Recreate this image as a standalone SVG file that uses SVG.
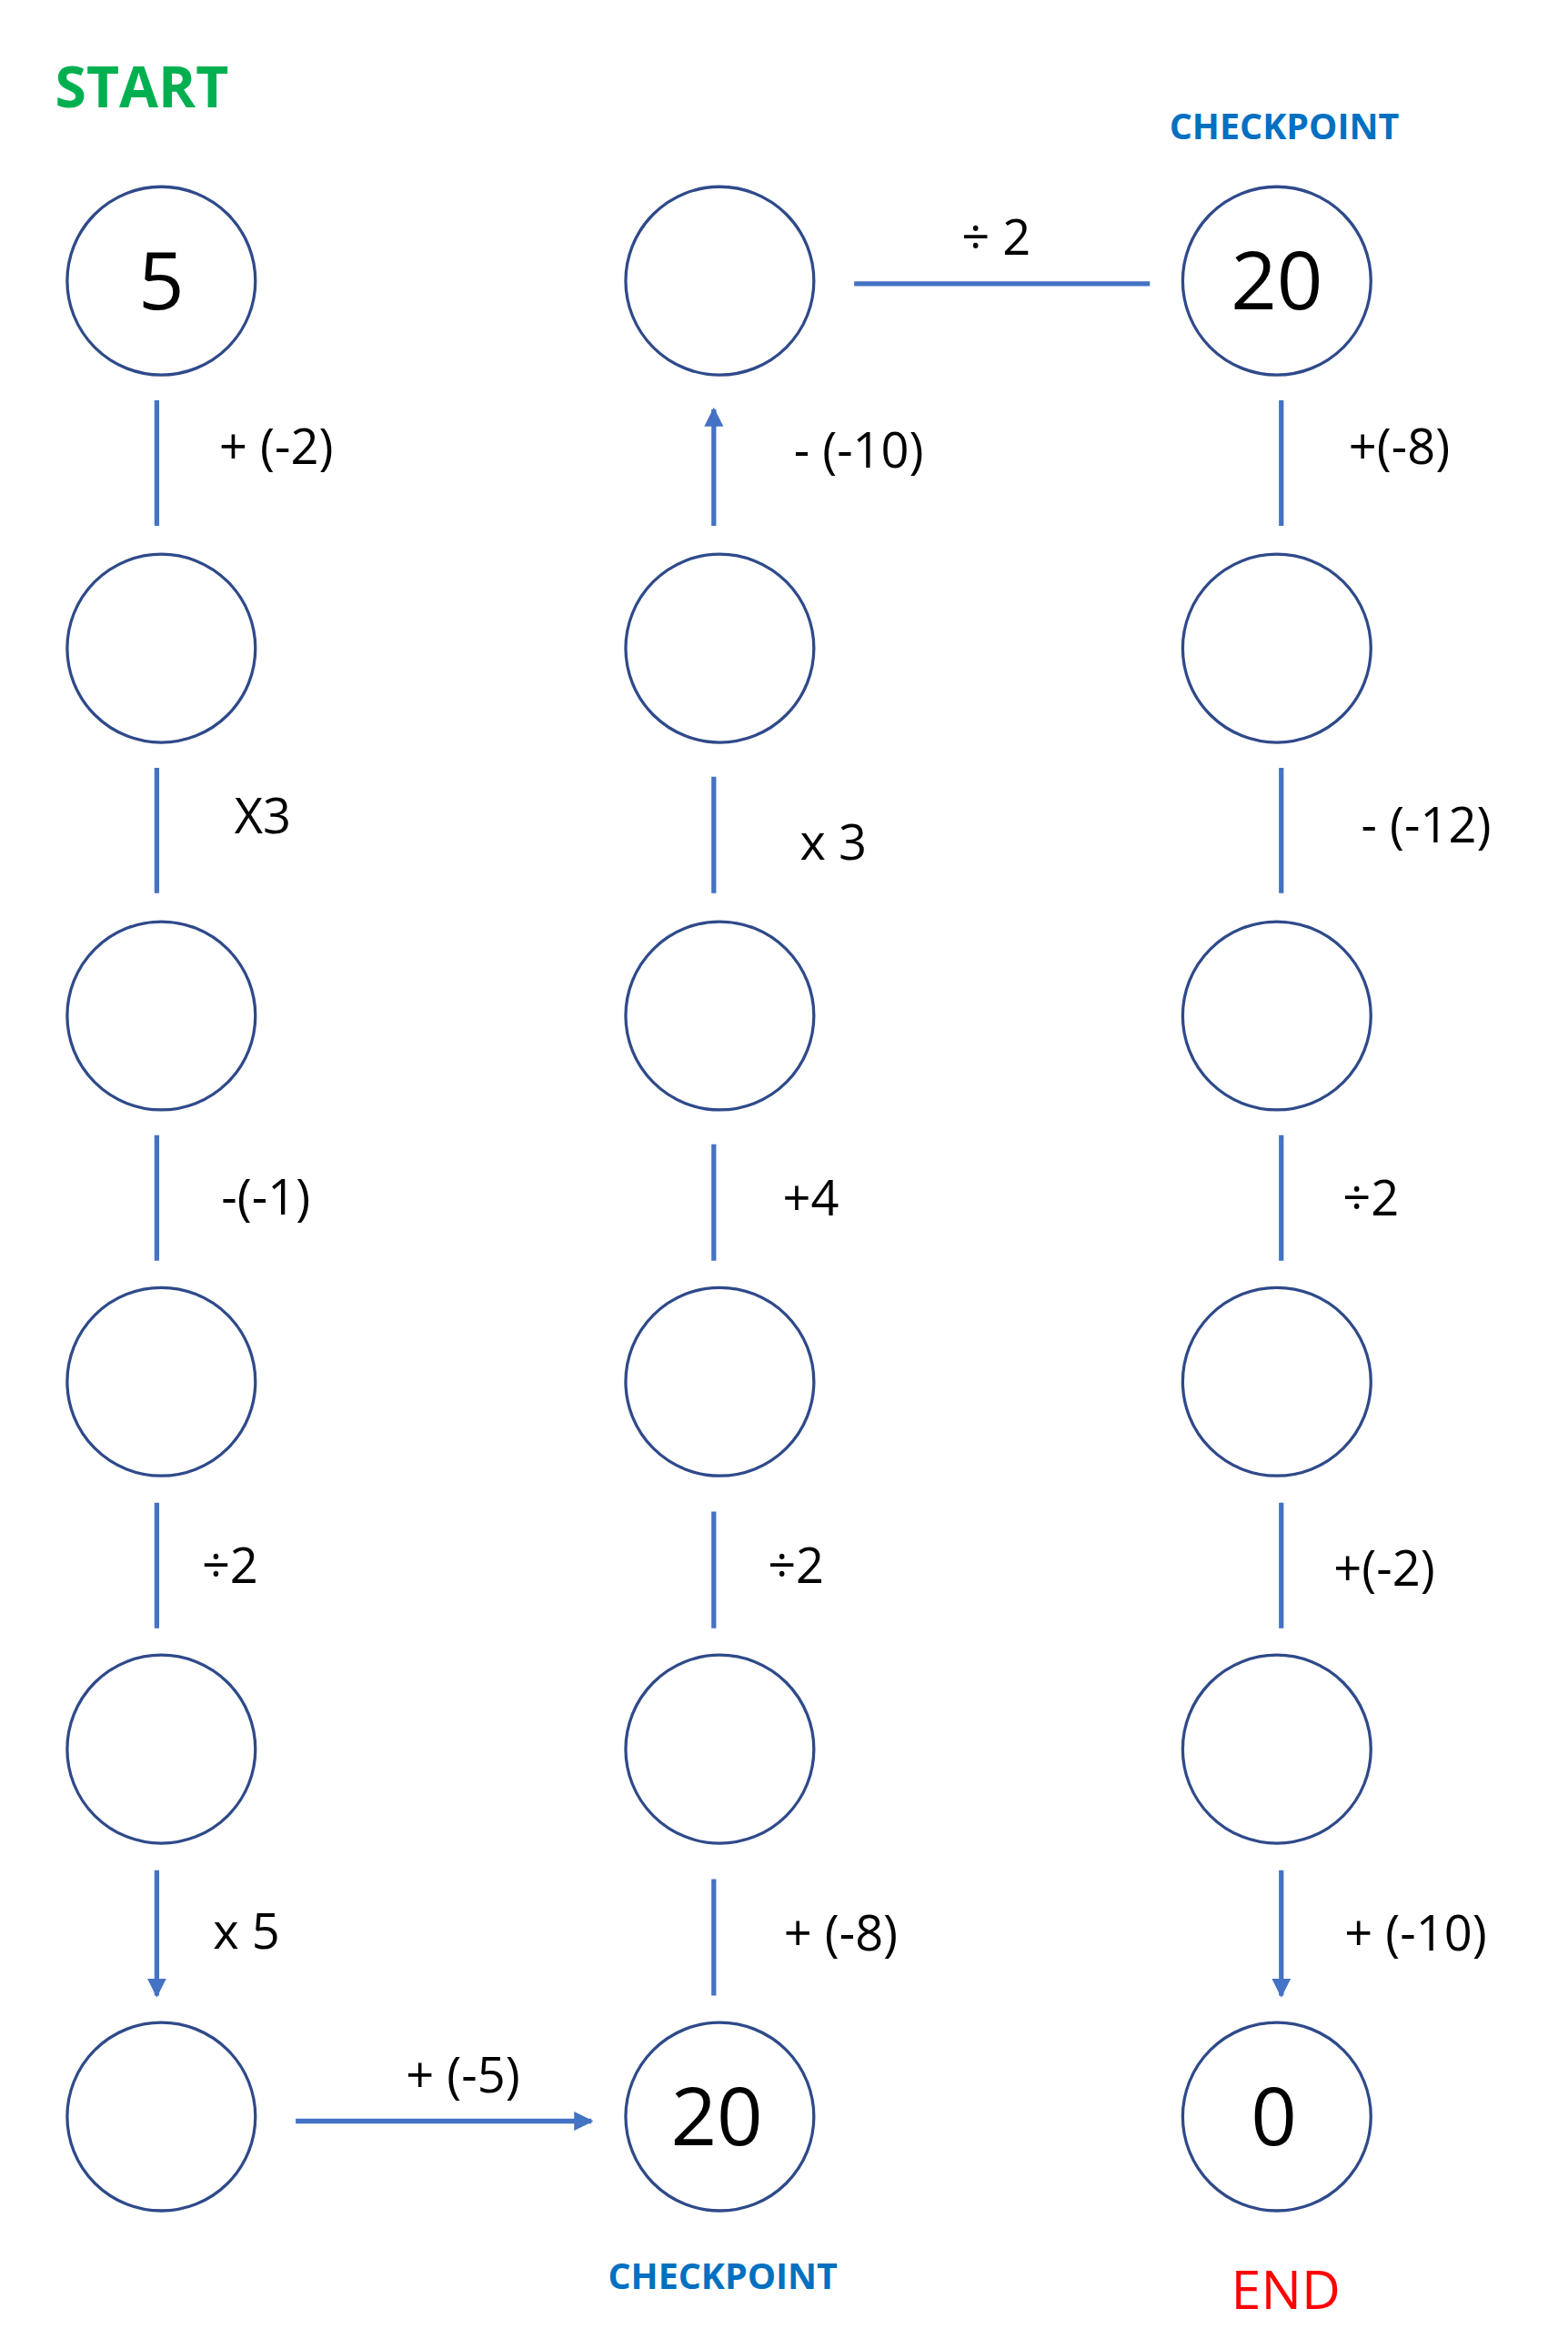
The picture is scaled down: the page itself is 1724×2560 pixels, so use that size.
<svg xmlns="http://www.w3.org/2000/svg" width="1724" height="2560" viewBox="0 0 1724 2560">
<style>
.n{fill:#fff;stroke:#2F4A8A;stroke-width:2}
.c{stroke:#4472C4;stroke-width:3.2;fill:none}
.l{font-family:"Open Sans","Liberation Sans",sans-serif;font-size:33px;fill:#000;text-anchor:middle;dominant-baseline:central}
.v{font-family:"Open Sans","Liberation Sans",sans-serif;font-size:54px;fill:#000;text-anchor:middle;dominant-baseline:central}
.t{font-family:"Open Sans","Liberation Sans",sans-serif;text-anchor:middle;dominant-baseline:central}
</style>
<defs><marker id="a" viewBox="0 0 10 10" refX="9" refY="5" markerWidth="4" markerHeight="4" orient="auto"><path d="M0,0L10,5L0,10z" fill="#4472C4"/></marker></defs>
<rect width="1724" height="2560" fill="#fff"/>
<g transform="scale(1.6419)">
<text class="t" x="95" y="57" font-size="38" font-weight="bold" fill="#00B050">START</text>
<text class="t" x="860" y="84" font-size="24" font-weight="bold" fill="#0070C0">CHECKPOINT</text>
<text class="t" x="484" y="1523" font-size="24" font-weight="bold" fill="#0070C0">CHECKPOINT</text>
<text class="t" x="861" y="1532" font-size="36" fill="#FF0000">END</text>
<g id="nodes">
<g id="n1"><circle class="n" cx="108" cy="188" r="63"/><text class="v" x="108" y="186">5</text></g>
<g id="n2"><circle class="n" cx="108" cy="434" r="63"/></g>
<g id="n3"><circle class="n" cx="108" cy="680" r="63"/></g>
<g id="n4"><circle class="n" cx="108" cy="925" r="63"/></g>
<g id="n5"><circle class="n" cx="108" cy="1171" r="63"/></g>
<g id="n6"><circle class="n" cx="108" cy="1417" r="63"/></g>
<g id="n7"><circle class="n" cx="482" cy="1417" r="63"/><text class="v" x="480" y="1415">20</text></g>
<g id="n8"><circle class="n" cx="482" cy="1171" r="63"/></g>
<g id="n9"><circle class="n" cx="482" cy="925" r="63"/></g>
<g id="n10"><circle class="n" cx="482" cy="680" r="63"/></g>
<g id="n11"><circle class="n" cx="482" cy="434" r="63"/></g>
<g id="n12"><circle class="n" cx="482" cy="188" r="63"/></g>
<g id="n13"><circle class="n" cx="855" cy="188" r="63"/><text class="v" x="855" y="186">20</text></g>
<g id="n14"><circle class="n" cx="855" cy="434" r="63"/></g>
<g id="n15"><circle class="n" cx="855" cy="680" r="63"/></g>
<g id="n16"><circle class="n" cx="855" cy="925" r="63"/></g>
<g id="n17"><circle class="n" cx="855" cy="1171" r="63"/></g>
<g id="n18"><circle class="n" cx="855" cy="1417" r="63"/><text class="v" x="853" y="1415">0</text></g>
</g>
<g id="connectors">
<path class="c" marker-end="url(#a)" d="M105,268V352M105,514V598M105,760V844M105,1006V1090M105,1252V1336"/>
<path class="c" marker-end="url(#a)" d="M478,1336V1258M478,1090V1012M478,844V766M478,598V520M478,352V274"/>
<path class="c" marker-end="url(#a)" d="M858,268V352M858,514V598M858,760V844M858,1006V1090M858,1252V1336"/>
<path class="c" marker-end="url(#a)" d="M572,190H770M198,1420H396"/>
</g>
<g id="labels">
<text class="l" x="185" y="298">+ (-2)</text>
<text class="l" x="176" y="545">X3</text>
<text class="l" x="178" y="800">-(-1)</text>
<text class="l" x="154" y="1047">÷2</text>
<text class="l" x="165" y="1292">x 5</text>
<text class="l" x="575" y="300">-  (-10)</text>
<text class="l" x="558" y="563">x 3</text>
<text class="l" x="543" y="801">+4</text>
<text class="l" x="533" y="1047">÷2</text>
<text class="l" x="563" y="1293">+ (-8)</text>
<text class="l" x="937" y="298">+(-8)</text>
<text class="l" x="955" y="551">- (-12)</text>
<text class="l" x="918" y="801">÷2</text>
<text class="l" x="927" y="1049">+(-2)</text>
<text class="l" x="948" y="1293">+ (-10)</text>
<text class="l" x="667" y="158">÷ 2</text>
<text class="l" x="310" y="1388">+ (-5)</text>
</g>
</g>
</svg>
